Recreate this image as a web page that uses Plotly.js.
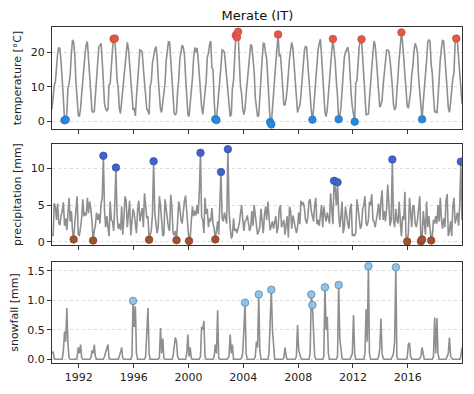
<!DOCTYPE html>
<html>
<head>
<meta charset="utf-8">
<script src="https://cdn.plot.ly/plotly-3.0.1.min.js"></script>
<style>html,body{margin:0;padding:0;background:#fff;}#chart{width:474px;height:394px;}</style>
</head>
<body>
<div id="chart"></div>
<script>
// Monthly series, Jan 1990 .. Dec 2019 (one row per year, Jan..Dec)
const firstYear = 1990;
const lastYear = 2019;

const temperature = [
  3.5, 8.5, 10.2, 11.5, 17.0, 19.8, 21.4, 21.0, 17.0, 13.0, 6.5, 0.2,
  0.4, 2.2, 9.5, 10.8, 13.5, 19.6, 23.6, 23.0, 19.2, 11.5, 6.0, 1.8,
  1.3, 3.6, 7.8, 11.9, 17.0, 19.6, 22.3, 23.1, 18.0, 11.0, 8.2, 3.0,
  2.5, 2.8, 7.0, 12.0, 18.0, 21.5, 22.0, 22.6, 17.4, 11.6, 5.0, 3.6,
  2.9, 3.5, 10.5, 11.0, 16.5, 20.8, 23.9, 24.0, 18.8, 11.8, 9.5, 3.5,
  2.2, 5.8, 7.5, 11.8, 15.8, 19.0, 22.9, 21.0, 16.0, 13.8, 7.0, 3.2,
  3.8, 1.5, 7.0, 12.5, 16.2, 20.7, 20.5, 20.0, 15.2, 12.0, 8.0, 3.5,
  3.0, 1.9, 10.0, 11.5, 16.8, 19.5, 20.6, 21.7, 19.0, 12.5, 7.8, 3.4,
  2.5, 5.8, 8.8, 11.0, 17.4, 21.0, 23.1, 23.0, 17.5, 12.6, 5.0, 2.4,
  1.7, 2.5, 8.5, 12.0, 18.0, 19.8, 22.1, 21.5, 19.2, 12.8, 5.5, 2.0,
  1.3, 4.5, 8.5, 12.5, 18.2, 21.4, 20.0, 21.3, 18.0, 13.5, 8.0, 4.2,
  1.9, 5.2, 10.2, 11.5, 18.5, 19.8, 22.3, 23.3, 15.5, 15.0, 6.0, 0.5,
  0.3, 5.4, 10.0, 12.0, 16.0, 20.7, 20.5, 20.0, 16.2, 12.6, 9.0, 4.8,
  1.3, 2.0, 9.5, 11.8, 19.5, 25.0, 24.4, 26.0, 17.5, 10.5, 8.0, 3.5,
  1.9, 3.5, 7.8, 12.0, 15.5, 20.2, 22.3, 21.8, 18.0, 14.5, 6.8, 3.6,
  1.3, 1.6, 8.0, 11.5, 17.8, 22.6, 22.5, 19.8, 18.0, 12.3, 5.5, -0.3,
  -1.0, 2.8, 6.8, 12.5, 16.8, 21.5, 25.2, 19.0, 19.2, 15.0, 9.0, 4.8,
  4.7, 6.5, 9.5, 15.5, 18.0, 20.8, 22.9, 21.0, 16.5, 12.2, 6.0, 2.5,
  3.7, 4.5, 7.5, 11.5, 17.0, 20.5, 21.7, 21.5, 16.5, 13.0, 7.5, 3.2,
  0.4, 3.5, 8.0, 13.0, 19.0, 20.8, 22.5, 23.8, 19.0, 12.8, 8.0, 2.5,
  1.3, 3.5, 7.5, 12.8, 15.8, 20.5, 23.9, 21.0, 17.0, 11.5, 7.3, 0.5,
  1.5, 4.0, 8.5, 15.0, 18.5, 20.0, 20.7, 21.5, 19.5, 12.5, 7.5, 4.0,
  1.5, -0.2, 11.0, 11.8, 16.5, 21.8, 23.0, 23.8, 18.5, 13.5, 9.0, 1.8,
  1.9, 2.0, 6.5, 12.0, 14.5, 19.8, 23.3, 22.0, 18.0, 13.8, 7.5, 4.0,
  4.7, 6.2, 10.5, 13.8, 16.0, 20.6, 20.7, 20.2, 17.8, 14.5, 10.0, 4.8,
  3.2, 4.0, 9.0, 13.2, 18.0, 21.8, 25.8, 22.8, 17.5, 12.8, 8.2, 4.5,
  3.7, 6.2, 8.5, 13.5, 16.0, 20.5, 22.6, 21.6, 19.8, 12.5, 8.0, 4.0,
  0.5, 5.5, 11.0, 13.5, 17.5, 22.8, 23.6, 23.2, 16.5, 13.8, 7.5, 2.5,
  3.0, 2.2, 6.5, 15.0, 17.8, 21.2, 23.4, 23.2, 19.0, 14.0, 9.0, 3.8,
  2.5, 5.5, 10.0, 12.5, 14.0, 23.0, 24.0, 23.0, 18.5, 14.0, 8.0, 5.0
];

const precipitation = [
  1.0, 0.8, 5.3, 4.8, 3.0, 5.2, 2.5, 2.3, 3.6, 4.2, 5.4, 2.2,
  3.2, 1.6, 3.8, 6.0, 2.8, 4.2, 1.5, 0.35, 2.5, 4.8, 6.2, 1.0,
  0.9, 2.0, 3.2, 5.8, 3.5, 4.0, 3.6, 6.0, 3.9, 5.5, 4.5, 2.8,
  0.2, 1.5, 2.2, 4.0, 3.0, 3.8, 2.5, 5.2, 6.0, 11.7, 4.2, 2.0,
  3.5, 2.0, 0.8, 5.5, 3.0, 2.8, 1.5, 5.0, 10.1, 3.5, 1.8, 2.5,
  1.6, 4.8, 1.0, 3.2, 6.2, 5.5, 2.0, 3.8, 5.6, 0.9, 2.6, 4.5,
  3.8, 2.5, 1.2, 4.4, 5.6, 2.8, 3.5, 4.6, 2.0, 6.6, 5.0, 3.2,
  3.5, 0.3, 1.0, 1.6, 3.8, 10.95, 4.0, 2.5, 1.2, 2.0, 6.2, 5.0,
  3.0, 0.8, 1.0, 5.8, 4.5, 3.2, 2.0, 1.5, 6.4, 4.8, 1.2, 0.9,
  1.5, 0.25, 2.8, 5.5, 4.6, 3.0, 2.5, 4.2, 5.6, 6.3, 3.4, 2.0,
  0.15, 0.6, 2.8, 4.8, 3.5, 4.2, 3.6, 5.0, 3.8, 6.8, 12.1, 3.4,
  3.0, 1.2, 6.0, 3.8, 4.5, 2.0, 3.2, 2.8, 4.6, 2.5, 1.8, 0.35,
  1.5, 2.8, 1.0, 4.6, 9.5, 3.2, 2.8, 4.0, 3.0, 2.5, 12.6, 4.5,
  2.0, 0.5, 0.8, 3.2, 1.5, 1.8, 1.2, 2.0, 2.5, 3.8, 5.0, 3.2,
  1.5, 2.8, 3.0, 3.6, 2.5, 1.5, 2.0, 4.2, 2.2, 5.0, 3.6, 2.0,
  1.0, 1.5, 2.0, 4.5, 2.8, 1.2, 3.6, 4.8, 3.0, 5.5, 3.5, 1.6,
  2.2, 2.8, 1.8, 2.5, 3.5, 1.2, 2.0, 4.4, 5.0, 2.0, 2.5, 3.0,
  1.0, 2.2, 3.5, 0.6, 4.8, 4.2, 1.8, 3.6, 2.8, 1.5, 1.2, 2.0,
  4.0, 2.4, 5.6, 5.0, 5.4, 4.6, 3.0, 2.5, 3.4, 5.5, 5.8, 4.2,
  3.5, 2.8, 5.0, 6.0, 2.4, 3.0, 2.2, 3.5, 5.0, 2.0, 4.8, 3.6,
  2.8, 4.0, 3.2, 2.5, 6.6, 3.6, 2.4, 8.3, 7.2, 5.0, 8.1, 3.8,
  2.0, 3.5, 5.5, 1.2, 2.0, 4.8, 3.2, 2.5, 1.8, 4.5, 5.2, 0.8,
  1.0, 0.8, 1.2, 5.8, 4.6, 2.5, 1.8, 2.2, 4.5, 5.0, 6.2, 2.5,
  2.2, 3.0, 5.5, 5.0, 6.5, 3.0, 2.8, 2.0, 3.4, 4.0, 5.2, 3.0,
  5.5, 7.0, 3.0, 4.2, 2.8, 4.5, 7.8, 4.5, 2.2, 3.0, 11.2, 3.0,
  2.0, 4.5, 3.0, 2.5, 5.5, 2.8, 0.8, 3.5, 3.0, 6.8, 0.5, 0.05,
  1.2, 6.0, 3.5, 2.0, 5.0, 4.8, 2.5, 2.0, 3.0, 4.2, 6.2, 0.1,
  0.35, 4.2, 2.8, 1.0, 5.5, 2.0, 3.5, 1.5, 0.2, 0.8, 3.0, 2.5,
  3.5, 2.5, 5.0, 2.8, 6.0, 3.0, 1.8, 3.2, 2.0, 5.5, 6.5, 0.8,
  1.5, 2.8, 0.8, 4.8, 6.0, 2.5, 3.5, 4.0, 2.2, 5.0, 10.9, 3.0
];

const snowfall = [
  0.10, 0.13, 0.02, 0, 0, 0, 0, 0, 0, 0, 0.15, 0.47,
  0.30, 0.87, 0.28, 0.02, 0, 0, 0, 0, 0, 0, 0.02, 0.20,
  0.10, 0.25, 0.03, 0, 0, 0, 0, 0, 0, 0, 0.02, 0.15,
  0.10, 0.25, 0.05, 0, 0, 0, 0, 0, 0, 0, 0.05, 0.12,
  0.15, 0.25, 0.02, 0, 0, 0, 0, 0, 0, 0, 0, 0.05,
  0.15, 0.20, 0.02, 0, 0, 0, 0, 0, 0, 0, 0.05, 0.99,
  0.55, 0.90, 0.10, 0, 0, 0, 0, 0, 0, 0, 0.05, 0.45,
  0.87, 0.10, 0, 0, 0, 0, 0, 0, 0, 0, 0.02, 0.53,
  0.10, 0.35, 0.02, 0, 0, 0, 0, 0, 0, 0, 0.05, 0.20,
  0.37, 0.30, 0.05, 0, 0, 0, 0, 0, 0, 0, 0.10, 0.42,
  0.05, 0.20, 0.02, 0, 0, 0, 0, 0, 0, 0, 0.05, 0.55,
  0.50, 0.65, 0.05, 0, 0, 0, 0, 0, 0, 0, 0.05, 0.25,
  0.10, 0.83, 0.02, 0, 0, 0, 0, 0, 0, 0, 0.02, 0.05,
  0.42, 0.10, 0.25, 0, 0, 0, 0, 0, 0, 0, 0.02, 0.10,
  0.50, 0.96, 0.10, 0, 0, 0, 0, 0, 0, 0, 0.05, 0.30,
  0.20, 1.10, 0.15, 0, 0, 0, 0, 0, 0, 0, 0.10, 0.70,
  1.18, 0.50, 0.15, 0, 0, 0, 0, 0, 0, 0, 0, 0.02,
  0.20, 0.05, 0, 0, 0, 0, 0, 0, 0, 0, 0.05, 0.58,
  0.15, 0.05, 0.02, 0, 0, 0, 0, 0, 0, 0, 0.10, 1.10,
  0.92, 0.40, 0.05, 0, 0, 0, 0, 0, 0, 0, 0.05, 1.22,
  0.50, 0.72, 0.10, 0, 0, 0, 0, 0, 0, 0, 0.05, 1.26,
  0.35, 0.20, 0.02, 0, 0, 0, 0, 0, 0, 0, 0.05, 0.10,
  0.75, 0.10, 0, 0, 0, 0, 0, 0, 0, 0, 0.10, 0.85,
  0.30, 1.58, 0.10, 0, 0, 0, 0, 0, 0, 0, 0.05, 0.18,
  0.69, 0.10, 0.02, 0, 0, 0, 0, 0, 0, 0, 0.05, 0.10,
  0.30, 1.56, 0.05, 0, 0, 0, 0, 0, 0, 0, 0, 0.02,
  0.25, 0.28, 0.05, 0, 0, 0, 0, 0, 0, 0, 0.02, 0.05,
  0.20, 0.05, 0, 0, 0, 0, 0, 0, 0, 0, 0.05, 0.71,
  0.10, 0.70, 0.10, 0, 0, 0, 0, 0, 0, 0, 0.05, 0.10,
  0.37, 0.05, 0.02, 0, 0, 0, 0, 0, 0, 0, 0.05, 0.20
];

// Highlighted extreme months (year-month)
const tempHighMonths = ['1994-07','1994-08','2003-06','2003-07','2003-08','2006-07','2010-07','2012-08','2015-07','2019-07'];
const tempLowMonths  = ['1990-12','1991-01','2001-12','2002-01','2005-12','2006-01','2009-01','2010-12','2012-02','2017-01'];
const precHighMonths = ['1993-10','1994-09','1997-06','2000-11','2002-05','2002-11','2010-08','2010-11','2014-11','2019-11'];
const precLowMonths  = ['1991-08','1993-01','1997-02','1999-02','2000-01','2001-12','2015-12','2016-12','2017-01','2017-09'];
const snowHighMonths = ['1995-12','2004-02','2005-02','2006-01','2008-12','2009-01','2009-12','2010-12','2013-02','2015-02'];

const yearTicks = ['1992','1996','2000','2004','2008','2012','2016'];

// monthly x positions (mid-month)
const dates = [];
for (let y = firstYear; y <= lastYear; y++) {
  for (let m = 1; m <= 12; m++) dates.push(y + '-' + String(m).padStart(2, '0') + '-15');
}
function pick(series, months) {
  const xs = [], ys = [];
  months.forEach(function (s) {
    const p = s.split('-');
    const i = (parseInt(p[0]) - firstYear) * 12 + parseInt(p[1]) - 1;
    xs.push(dates[i]); ys.push(series[i]);
  });
  return {x: xs, y: ys};
}

const lineStyle = {color: '#8f8f8f', width: 1.6};
function lineTrace(series, xa, ya) {
  return {x: dates, y: series, type: 'scatter', mode: 'lines', line: lineStyle,
          xaxis: xa, yaxis: ya, hoverinfo: 'skip', showlegend: false};
}
function markTrace(series, months, fill, edge, xa, ya) {
  const p = pick(series, months);
  return {x: p.x, y: p.y, type: 'scatter', mode: 'markers',
          marker: {size: 7.5, color: fill, line: {color: edge, width: 0.8}},
          xaxis: xa, yaxis: ya, showlegend: false};
}

const traces = [
  lineTrace(temperature, 'x', 'y'),
  markTrace(temperature, tempHighMonths, '#e2594a', '#c94a3d', 'x', 'y'),
  markTrace(temperature, tempLowMonths, '#2b87dc', '#2476c4', 'x', 'y'),
  lineTrace(precipitation, 'x2', 'y2'),
  markTrace(precipitation, precHighMonths, '#4262c6', '#3654b0', 'x2', 'y2'),
  markTrace(precipitation, precLowMonths, '#a2502e', '#8a4226', 'x2', 'y2'),
  lineTrace(snowfall, 'x3', 'y3'),
  markTrace(snowfall, snowHighMonths, '#8ec4ea', '#5b86a6', 'x3', 'y3')
];

const fontFam = 'DejaVu Sans, sans-serif';
const xRange = [dates[0], dates[dates.length - 1]];
function xAxis(anchor, labels) {
  return {
    type: 'date', range: xRange, anchor: anchor,
    tickvals: yearTicks.map(function (t) { return t + '-01-01'; }),
    ticktext: yearTicks,
    showticklabels: labels,
    ticks: 'outside', ticklen: 4, tickwidth: 1, tickcolor: '#333',
    showgrid: false, zeroline: false,
    showline: true, mirror: true, linecolor: '#333', linewidth: 1,
    tickfont: {family: fontFam, size: 11, color: '#222'}
  };
}
function yAxis(anchor, domain, range, tickvals, ticktext, title) {
  return {
    anchor: anchor, domain: domain, range: range,
    tickvals: tickvals, ticktext: ticktext,
    ticks: 'outside', ticklen: 4, tickwidth: 1, tickcolor: '#333',
    showgrid: true, gridcolor: '#d2d2d2', gridwidth: 0.8, griddash: 'dot',
    zeroline: false,
    showline: true, mirror: true, linecolor: '#333', linewidth: 1,
    tickfont: {family: fontFam, size: 11, color: '#222'},
    title: {text: title, font: {family: fontFam, size: 11, color: '#222'}, standoff: 6}
  };
}

const layout = {
  width: 474, height: 394,
  margin: {l: 52, r: 12, t: 27, b: 31},
  paper_bgcolor: '#fff', plot_bgcolor: '#fff',
  title: {text: 'Merate (IT)', x: 0.543, xanchor: 'center', y: 0.962, yanchor: 'middle',
          font: {family: fontFam, size: 13, color: '#111'}},
  xaxis: xAxis('y', false),
  xaxis2: xAxis('y2', false),
  xaxis3: xAxis('y3', true),
  yaxis: yAxis('x', [0.6964, 1], [-2.33, 27.37], [0, 10, 20], ['0', '10', '20'], 'temperature [°C]'),
  yaxis2: yAxis('x2', [0.3512, 0.6518], [-0.41, 13.3], [0, 5, 10], ['0', '5', '10'], 'precipitation [mm]'),
  yaxis3: yAxis('x3', [0, 0.3006], [-0.063, 1.65], [0, 0.5, 1.0, 1.5], ['0.0', '0.5', '1.0', '1.5'], 'snowfall [mm]'),
  showlegend: false
};

Plotly.newPlot('chart', traces, layout, {staticPlot: true, displayModeBar: false});
</script>
</body>
</html>
